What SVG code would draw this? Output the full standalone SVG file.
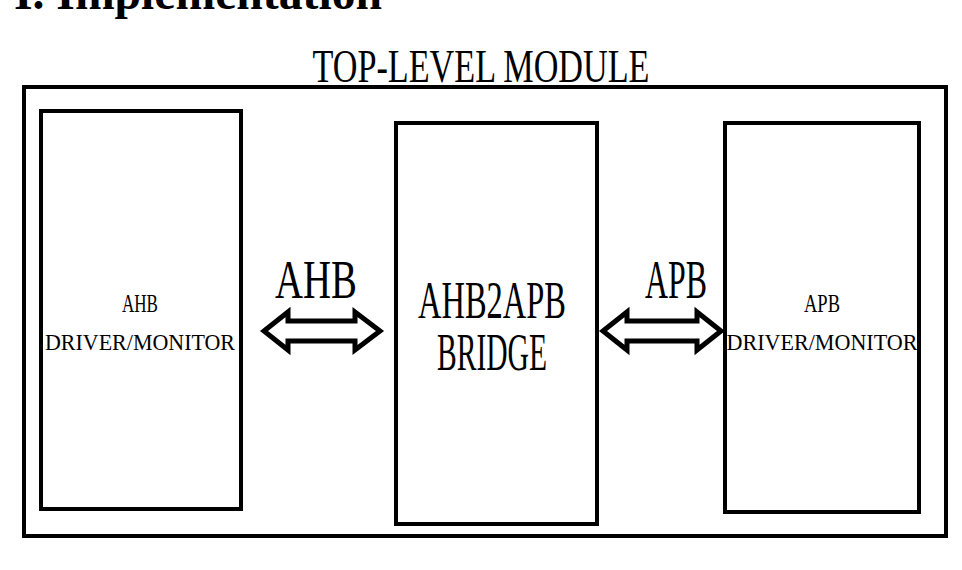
<svg xmlns="http://www.w3.org/2000/svg" width="962" height="570" viewBox="0 0 962 570">
<style>
.b{fill:#fff;stroke:#000;stroke-width:4}
.t{font-family:"Liberation Serif",serif;fill:#000;text-anchor:middle}
.a{fill:#fff;stroke:#000;stroke-width:5;stroke-linejoin:miter}
</style>
<rect width="962" height="570" fill="#fff"/>
<text x="14" y="9" font-family="Liberation Serif,serif" font-weight="bold" font-size="48" textLength="368" lengthAdjust="spacingAndGlyphs">I. Implementation</text>
<text class="t" x="481" y="82" font-size="46" textLength="337" lengthAdjust="spacingAndGlyphs">TOP-LEVEL MODULE</text>
<g id="top"><rect class="b" x="24" y="87" width="922" height="449"/></g>
<g id="ahbdrv"><rect class="b" x="41" y="111" width="200" height="398"/>
<text class="t" x="140" y="312" font-size="26" textLength="36" lengthAdjust="spacingAndGlyphs">AHB</text>
<text class="t" x="140" y="350" font-size="24" textLength="190" lengthAdjust="spacingAndGlyphs">DRIVER/MONITOR</text></g>
<g id="bridge"><rect class="b" x="396" y="123" width="201" height="401"/>
<text class="t" x="492" y="318" font-size="52" textLength="148" lengthAdjust="spacingAndGlyphs">AHB2APB</text>
<text class="t" x="492" y="370" font-size="52" textLength="110" lengthAdjust="spacingAndGlyphs">BRIDGE</text></g>
<g id="apbdrv"><rect class="b" x="725" y="123" width="194" height="389"/>
<text class="t" x="822" y="312" font-size="26" textLength="36" lengthAdjust="spacingAndGlyphs">APB</text>
<text class="t" x="822" y="350" font-size="24" textLength="191" lengthAdjust="spacingAndGlyphs">DRIVER/MONITOR</text></g>
<g id="connectors">
<path class="a" d="M264,331 L288,312 L288,321 L355,321 L355,312 L380,331 L355,350 L355,341 L288,341 L288,350 Z"/>
<text class="t" x="316" y="298" font-size="54" textLength="82" lengthAdjust="spacingAndGlyphs">AHB</text>
<path class="a" d="M603,331 L627,312 L627,321 L697,321 L697,312 L721,331 L697,350 L697,341 L627,341 L627,350 Z"/>
<text class="t" x="676" y="298" font-size="54" textLength="62" lengthAdjust="spacingAndGlyphs">APB</text>
</g>
</svg>
